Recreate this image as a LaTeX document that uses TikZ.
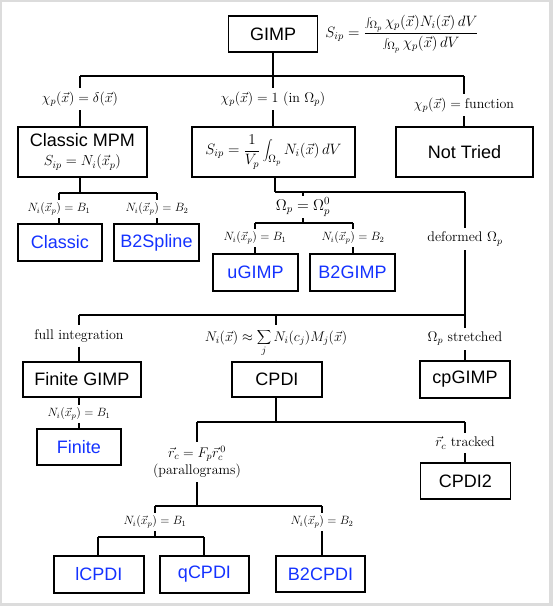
\RequirePackage{fix-cm}
\documentclass[tikz,border=0pt]{standalone}
\usepackage{fontspec}
\newfontfamily\cajafont{Liberation Sans}
\definecolor{azul}{RGB}{20,50,255}
\definecolor{gris}{RGB}{220,220,220}

\begin{document}
\begin{tikzpicture}[x=1pt, y=-1pt,
	rama/.style={line width=1.4pt},
	caja/.style={draw, line width=1.8pt, inner sep=0pt, minimum height=37pt, font=\cajafont\fontsize{18}{20}\selectfont},
	hoja/.style={caja, text=azul},
	etiq/.style={inner sep=4pt, font=\fontsize{14}{16}\selectfont},
	etiqp/.style={inner sep=3pt, font=\fontsize{12}{14}\selectfont}]
	% Fondo
		\fill[gris] (0,0) rectangle (553,606);
		\fill[white] (2,2) rectangle (549,603);

	% Raiz
		\node[caja, minimum width=89pt, minimum height=36pt] (gimp) at (273,34) {GIMP};
		\node[etiq, font=\fontsize{15}{17}\selectfont] (sgimp) at (402,34) {$S_{ip} = \displaystyle\frac{\int_{\Omega_p}\chi_p(\vec{x})N_i(\vec{x})\,dV}{\int_{\Omega_p}\chi_p(\vec{x})\,dV}$};

	% Ramas de chi
		\coordinate (cA) at (80,76);
		\coordinate (cB) at (464,76);
		\draw[rama] (gimp) -- (gimp |- cA);
		\draw[rama] (cA) -- (cB);
		\node[etiq] (chiA) at (80,99) {$\chi_p(\vec{x}) = \delta(\vec{x})$};
		\node[etiq] (chiB) at (273,99) {$\chi_p(\vec{x}) = 1\ (\mathrm{in}\ \Omega_p)$};
		\node[etiq] (chiC) at (464,105) {$\chi_p(\vec{x}) = \mathrm{function}$};
		\draw[rama] (cA) -- (chiA);
		\draw[rama] (gimp |- cA) -- (chiB);
		\draw[rama] (cB) -- (chiC);
		\node[caja, minimum width=129pt, minimum height=50pt, align=center] (mpm) at (82.5,152) {Classic MPM\\[-1pt]{\fontsize{14.5}{16}\selectfont$S_{ip} = N_i(\vec{x}_p)$}};
		\node[caja, minimum width=163pt, minimum height=50pt] (sip) at (273.5,152) {\fontsize{15}{17}\selectfont$\displaystyle S_{ip} = \frac{1}{V_p}\int_{\Omega_p} N_i(\vec{x})\,dV$};
		\node[caja, minimum width=137pt, minimum height=50pt] (nt) at (464.5,152) {Not Tried};
		\draw[rama] (chiA) -- (chiA |- mpm.north);
		\draw[rama] (chiB) -- (chiB |- sip.north);
		\draw[rama] (chiC) -- (chiC |- nt.north);

	% Classic MPM
		\coordinate (mA) at (59,193);
		\coordinate (mB) at (157,193);
		\draw[rama] (chiA |- mpm.south) -- (chiA |- mA);
		\draw[rama] (mA) -- (mB);
		\node[etiqp] (mbA) at (59,209) {$N_i(\vec{x}_p) = B_1$};
		\node[etiqp] (mbB) at (157,209) {$N_i(\vec{x}_p) = B_2$};
		\draw[rama] (mA) -- (mbA);
		\draw[rama] (mB) -- (mbB);
		\node[hoja, minimum width=84pt] (classic) at (60,242.5) {Classic};
		\node[hoja, minimum width=85pt] (b2spline) at (156.5,242.5) {B2Spline};
		\draw[rama] (mbA) -- (mbA |- classic.north);
		\draw[rama] (mbB) -- (mbB |- b2spline.north);

	% GIMP
		\coordinate (sA) at (275,192);
		\coordinate (sB) at (465,192);
		\draw[rama] (sA |- sip.south) -- (sA);
		\draw[rama] (sA) -- (sB);
		\node[etiq, inner sep=2pt, font=\fontsize{15.5}{17}\selectfont] (omA) at (303,207) {$\Omega_p = \Omega_p^0$};
		\draw[rama] (sA -| omA) -- (omA);
		\coordinate (oA) at (255,223);
		\coordinate (oB) at (353,223);
		\draw[rama] (omA) -- (omA |- oA);
		\draw[rama] (oA) -- (oB);
		\node[etiqp] (obA) at (255,238) {$N_i(\vec{x}_p) = B_1$};
		\node[etiqp] (obB) at (353,238) {$N_i(\vec{x}_p) = B_2$};
		\draw[rama] (oA) -- (obA);
		\draw[rama] (oB) -- (obB);
		\node[hoja, minimum width=85pt] (ugimp) at (255.5,272.5) {uGIMP};
		\node[hoja, minimum width=85pt] (b2gimp) at (352.5,272.5) {B2GIMP};
		\draw[rama] (obA) -- (obA |- ugimp.north);
		\draw[rama] (obB) -- (obB |- b2gimp.north);

	% Omega deformado
		\node[etiq] (defo) at (465,239) {deformed $\Omega_p$};
		\coordinate (dA) at (79,315);
		\coordinate (dB) at (465,315);
		\coordinate (dC) at (276,315);
		\draw[rama] (sB) -- (defo);
		\draw[rama] (defo) -- (dB);
		\draw[rama] (dA) -- (dB);
		\node[etiq] (full) at (79,336) {full integration};
		\node[etiq, anchor=base] (suma) at (276,341) {$\displaystyle N_i(\vec{x}) \approx \sum_j N_i(c_j)M_j(\vec{x})$};
		\node[etiq] (stre) at (465,339) {$\Omega_p$ stretched};
		\draw[rama] (dA) -- (full);
		\draw[rama] (dC) -- (suma);
		\draw[rama] (dB) -- (stre);
		\node[caja, minimum width=118pt, minimum height=35pt] (fgimp) at (82,379.5) {Finite GIMP};
		\node[caja, minimum width=90pt, minimum height=35pt] (cpdi) at (277,379.5) {CPDI};
		\node[caja, minimum width=90pt] (cpgimp) at (465,379.5) {cpGIMP};
		\draw[rama] (full) -- (full |- fgimp.north);
		\draw[rama] (suma) -- (suma |- cpdi.north);
		\draw[rama] (stre) -- (stre |- cpgimp.north);

	% Finite GIMP
		\node[etiqp] (fb) at (79,414) {$N_i(\vec{x}_p) = B_1$};
		\node[hoja, minimum width=84pt, minimum height=36pt] (finite) at (79,447) {Finite};
		\draw[rama] (fb |- fgimp.south) -- (fb);
		\draw[rama] (fb) -- (fb |- finite.north);

	% CPDI
		\coordinate (pA) at (197,422);
		\coordinate (pB) at (465,422);
		\coordinate (pC) at (276,422);
		\draw[rama] (pC |- cpdi.south) -- (pC);
		\draw[rama] (pA) -- (pB);
		\node[etiq, align=center, font=\fontsize{14}{17}\selectfont] (para) at (197,462) {$\vec{r}_c = F_p\vec{r}_c^{\,0}$\\(parallograms)};
		\node[etiq] (track) at (465,443) {$\vec{r}_c$ tracked};
		\draw[rama] (pA) -- (para);
		\draw[rama] (pB) -- (track);
		\node[caja, minimum width=90pt, minimum height=36pt] (cpdi2) at (465.5,481) {CPDI2};
		\draw[rama] (track) -- (track |- cpdi2.north);

	% Paralelogramos
		\coordinate (qA) at (155,506);
		\coordinate (qB) at (322,506);
		\draw[rama] (para) -- (para |- qA);
		\draw[rama] (qA) -- (qB);
		\node[etiqp] (qbA) at (155,522) {$N_i(\vec{x}_p) = B_1$};
		\node[etiqp] (qbB) at (322,522) {$N_i(\vec{x}_p) = B_2$};
		\draw[rama] (qA) -- (qbA);
		\draw[rama] (qB) -- (qbB);
		\coordinate (rA) at (98,537);
		\coordinate (rB) at (204,537);
		\draw[rama] (qbA) -- (qbA |- rA);
		\draw[rama] (rA) -- (rB);
		\node[hoja, minimum width=90pt] (lcpdi) at (99,574.5) {lCPDI};
		\node[hoja, minimum width=89pt] (qcpdi) at (204.5,574.5) {qCPDI};
		\node[hoja, minimum width=89pt, minimum height=36pt] (b2cpdi) at (320.5,574) {B2CPDI};
		\draw[rama] (rA) -- (rA |- lcpdi.north);
		\draw[rama] (rB) -- (rB |- qcpdi.north);
		\draw[rama] (qbB) -- (qbB |- b2cpdi.north);
\end{tikzpicture}
\end{document}
